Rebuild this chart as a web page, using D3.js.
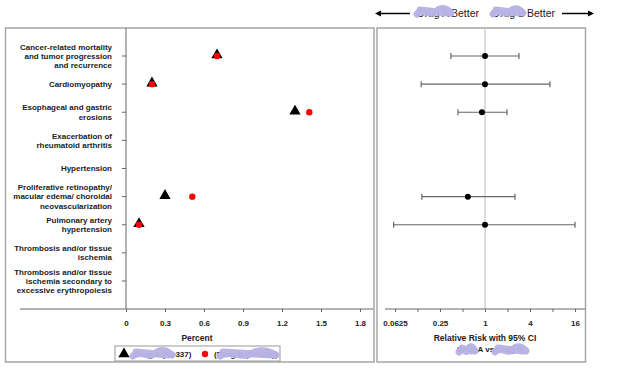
<!DOCTYPE html>
<html>
<head>
<meta charset="utf-8">
<script src="https://cdn.jsdelivr.net/npm/d3@7"></script>
<style>
  body { margin: 0; background: #fff; }
  text { font-family: "Liberation Sans", Arial, sans-serif; }
</style>
</head>
<body>
<div id="chart"></div>
<script>
// Adverse event categories (label lines)
var categories = [
  ["Cancer-related mortality", "and tumor progression", "and recurrence"],
  ["Cardiomyopathy"],
  ["Esophageal and gastric", "erosions"],
  ["Exacerbation of", "rheumatoid arthritis"],
  ["Hypertension"],
  ["Proliferative retinopathy/", "macular edema/ choroidal", "neovascularization"],
  ["Pulmonary artery", "hypertension"],
  ["Thrombosis and/or tissue", "ischemia"],
  ["Thrombosis and/or tissue", "ischemia secondary to", "excessive erythropoiesis"]
];

// Percent of patients (null = no events)
var drugA = [0.70, 0.20, 1.30, null, null, 0.30, 0.10, null, null];
var drugB = [0.70, 0.20, 1.41, null, null, 0.51, 0.10, null, null];

// Relative risk with 95% CI
var rr   = [1, 1, 0.91, null, null, 0.59, 1, null, null];
var rrLo = [0.35, 0.14, 0.435, null, null, 0.143, 0.06, null, null];
var rrHi = [2.85, 7.4, 1.97, null, null, 2.52, 16, null, null];

var percentTicks = [0, 0.3, 0.6, 0.9, 1.2, 1.5, 1.8];
var rrTicks = [0.0625, 0.125, 0.25, 0.5, 1, 2, 4, 8, 16];
var rrTickLabels = ["0.0625", "", "0.25", "", "1", "", "4", "", "16"];

var legendLabels = ["Drug A (N=337)", "(Drug B (N=103))"];

var svg = d3.select("#chart").append("svg")
  .attr("width", 625).attr("height", 391);

var frame = "#a6a6a6";
var boxTop = 28, boxBottom = 362, axisY = 309;

// Frames
svg.append("rect").attr("x", 5.5).attr("y", boxTop).attr("width", 368.5).attr("height", boxBottom - boxTop)
  .attr("fill", "none").attr("stroke", frame).attr("stroke-width", 1.5);
svg.append("rect").attr("x", 377).attr("y", boxTop).attr("width", 208.5).attr("height", boxBottom - boxTop)
  .attr("fill", "none").attr("stroke", frame).attr("stroke-width", 1.5);

var y = d3.scalePoint().domain(d3.range(categories.length)).range([56, 281]);
var x = d3.scaleLinear().domain([0, 1.8]).range([126, 360]);
var xr = d3.scaleLog().base(2).domain([0.0625, 16]).range([395, 575]);

// Category labels
var lab = svg.append("g").attr("font-size", 8).attr("font-weight", "bold").attr("fill", "#222")
  .attr("text-anchor", "end");
categories.forEach(function (lines, i) {
  var lh = 9.3;
  var y0 = y(i) - (lines.length - 1) * lh / 2;
  lines.forEach(function (t, j) {
    lab.append("text").attr("x", 112).attr("y", y0 + j * lh).attr("dy", "0.35em").text(t);
  });
});

// Left y axis
svg.append("line").attr("x1", 126).attr("x2", 126).attr("y1", boxTop).attr("y2", axisY)
  .attr("stroke", "#666").attr("stroke-width", 1);
svg.append("g").selectAll("line").data(categories).join("line")
  .attr("x1", 122).attr("x2", 126)
  .attr("y1", function (d, i) { return y(i); }).attr("y2", function (d, i) { return y(i); })
  .attr("stroke", "#666");

// Left x axis
svg.append("line").attr("x1", 20).attr("x2", 373).attr("y1", axisY).attr("y2", axisY)
  .attr("stroke", "#666");
var xa = svg.append("g").attr("transform", "translate(0," + axisY + ")")
  .call(d3.axisBottom(x).tickValues(percentTicks).tickSize(3).tickSizeOuter(0)
    .tickFormat(function (d) { return d === 0 ? "0" : d3.format(".1f")(d); }));
xa.select(".domain").remove();
xa.selectAll("line").attr("stroke", "#666");
xa.selectAll("text").attr("font-size", 8).attr("font-weight", "bold").attr("fill", "#222")
  .attr("font-family", "Liberation Sans, Arial, sans-serif").attr("y", 11);

svg.append("text").attr("x", 197).attr("y", 341).attr("text-anchor", "middle")
  .attr("font-size", 8.5).attr("font-weight", "bold").attr("fill", "#222").text("Percent");

// Percent markers
var tri = d3.symbol().type(d3.symbolTriangle).size(55);
drugA.forEach(function (v, i) {
  if (v == null) return;
  svg.append("path").attr("d", tri).attr("fill", "#000")
    .attr("transform", "translate(" + x(v) + "," + (y(i) - 1) + ")");
});
drugB.forEach(function (v, i) {
  if (v == null) return;
  svg.append("circle").attr("cx", x(v)).attr("cy", y(i)).attr("r", 3.2).attr("fill", "#f00");
});

// Legend
var lg = svg.append("g");
lg.append("rect").attr("x", 115).attr("y", 346).attr("width", 165).attr("height", 15)
  .attr("fill", "#fff").attr("stroke", "#999");
lg.append("path").attr("d", tri).attr("fill", "#000").attr("transform", "translate(124,354)");
lg.append("circle").attr("cx", 205).attr("cy", 354).attr("r", 3.2).attr("fill", "#f00");
lg.append("text").attr("x", 134).attr("y", 357).attr("font-size", 8).attr("font-weight", "bold")
  .attr("fill", "#222").text(legendLabels[0]);
lg.append("text").attr("x", 214).attr("y", 357).attr("font-size", 8).attr("font-weight", "bold")
  .attr("fill", "#222").text(legendLabels[1]);

// Right panel: reference line
svg.append("line").attr("x1", xr(1)).attr("x2", xr(1)).attr("y1", boxTop).attr("y2", axisY)
  .attr("stroke", "#bbb").attr("stroke-width", 1);

// Right x axis
svg.append("line").attr("x1", 385).attr("x2", 585).attr("y1", axisY).attr("y2", axisY)
  .attr("stroke", "#666");
var ra = svg.append("g").attr("transform", "translate(0," + axisY + ")")
  .call(d3.axisBottom(xr).tickValues(rrTicks).tickSize(3).tickSizeOuter(0)
    .tickFormat(function (d, i) { return rrTickLabels[i]; }));
ra.select(".domain").remove();
ra.selectAll("line").attr("stroke", "#666");
ra.selectAll("text").attr("font-size", 8).attr("font-weight", "bold").attr("fill", "#222")
  .attr("font-family", "Liberation Sans, Arial, sans-serif").attr("y", 11);

svg.append("text").attr("x", 485).attr("y", 341).attr("text-anchor", "middle")
  .attr("font-size", 8.5).attr("font-weight", "bold").attr("fill", "#222")
  .text("Relative Risk with 95% CI");
svg.append("text").attr("x", 490).attr("y", 352).attr("text-anchor", "middle")
  .attr("font-size", 8).attr("font-weight", "bold").attr("fill", "#222")
  .text("Drug A vs Drug B");

// Error bars
rr.forEach(function (v, i) {
  if (v == null) return;
  var g = svg.append("g").attr("stroke", "#666").attr("stroke-width", 1.2);
  g.append("line").attr("x1", xr(rrLo[i])).attr("x2", xr(rrHi[i])).attr("y1", y(i)).attr("y2", y(i));
  [rrLo[i], rrHi[i]].forEach(function (e) {
    g.append("line").attr("x1", xr(e)).attr("x2", xr(e)).attr("y1", y(i) - 3).attr("y2", y(i) + 3);
  });
  svg.append("circle").attr("cx", xr(v)).attr("cy", y(i)).attr("r", 3).attr("fill", "#000");
});

// Top direction annotations
var ann = svg.append("g").attr("font-family", "Carlito, Calibri, 'Liberation Sans', sans-serif")
  .attr("font-size", 10.5).attr("fill", "#222");
ann.append("text").attr("x", 451).attr("y", 17).text("Better");
ann.append("text").attr("x", 527).attr("y", 17).text("Better");
ann.append("text").attr("x", 449).attr("y", 17).attr("text-anchor", "end").text("Drug A");
ann.append("text").attr("x", 525).attr("y", 17).attr("text-anchor", "end").text("Drug B");
svg.append("line").attr("x1", 380).attr("x2", 410).attr("y1", 13.5).attr("y2", 13.5)
  .attr("stroke", "#000").attr("stroke-width", 1.5);
svg.append("path").attr("d", "M375,13.5L381,10.5L381,16.5Z").attr("fill", "#000");
svg.append("line").attr("x1", 562).attr("x2", 589).attr("y1", 13.5).attr("y2", 13.5)
  .attr("stroke", "#000").attr("stroke-width", 1.5);
svg.append("path").attr("d", "M594,13.5L588,10.5L588,16.5Z").attr("fill", "#000");

// Redaction scribbles
var scrib = svg.append("g").attr("fill", "none").attr("stroke", "#b9b3e6")
  .attr("stroke-width", 7).attr("stroke-linecap", "round").attr("opacity", 0.97);
[[417, 451, 12], [493, 523, 12], [133, 172, 354], [220, 276, 354], [459, 475, 350], [495, 526, 350]].forEach(function (s) {
  var a = s[0], b = s[1], c = s[2], w = b - a;
  scrib.append("path").attr("d",
    "M" + a + "," + (c + 2) + "C" + (a + w * 0.2) + "," + (c - 5) + " " + (a + w * 0.4) + "," + (c + 5) + " " +
    (a + w * 0.55) + "," + c + "S" + (a + w * 0.85) + "," + (c - 4) + " " + b + "," + (c + 1) +
    "M" + (a + 3) + "," + (c - 2) + "L" + (b - 4) + "," + (c + 1));
});
</script>
</body>
</html>
